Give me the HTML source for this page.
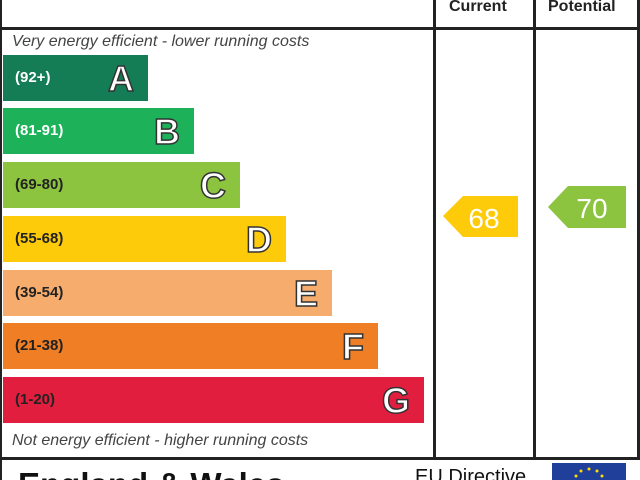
<!DOCTYPE html>
<html style="margin:0;width:640px;height:480px;overflow:hidden"><head><style>
body{margin:0;width:640px;height:480px;overflow:hidden;background:#fff;font-family:"Liberation Sans",sans-serif;position:relative}
.a{position:absolute}
.bar{position:absolute;left:3px;height:46px}
.bar .r{position:absolute;left:12px;top:14px;font-size:15px;font-weight:bold}
.bar .l{position:absolute;right:14px;top:3px;font-size:36px;font-weight:bold;color:#fff;-webkit-text-stroke:1.5px #333}
.it{position:absolute;left:12px;font-size:16px;font-style:italic;color:#444}
</style></head><body>
<div class="a" style="left:0;top:0;width:2px;height:480px;background:#222"></div>
<div class="a" style="left:637px;top:0;width:3px;height:460px;background:#222"></div>
<div class="a" style="left:0;top:27px;width:640px;height:3px;background:#222"></div>
<div class="a" style="left:0;top:457px;width:640px;height:3px;background:#222"></div>
<div class="a" style="left:433px;top:0;width:3px;height:460px;background:#222"></div>
<div class="a" style="left:533px;top:0;width:3px;height:460px;background:#222"></div>
<div class="a" style="left:449px;top:-2px;font-size:16px;font-weight:bold;color:#222">Current</div>
<div class="a" style="left:548px;top:-2px;font-size:16px;font-weight:bold;color:#222">Potential</div>
<div class="it" style="top:33px">Very energy efficient - lower running costs</div>
<div class="it" style="top:432px">Not energy efficient - higher running costs</div>
<div class="bar" style="top:55px;width:145px;background:#147d55"><span class="r" style="color:#fff">(92+)</span><span class="l">A</span></div>
<div class="bar" style="top:108px;width:191px;background:#1db15a"><span class="r" style="color:#fff">(81-91)</span><span class="l">B</span></div>
<div class="bar" style="top:162px;width:237px;background:#8cc43f"><span class="r" style="color:#222">(69-80)</span><span class="l">C</span></div>
<div class="bar" style="top:216px;width:283px;background:#fecb0a"><span class="r" style="color:#222">(55-68)</span><span class="l">D</span></div>
<div class="bar" style="top:270px;width:329px;background:#f6ac6c"><span class="r" style="color:#222">(39-54)</span><span class="l">E</span></div>
<div class="bar" style="top:323px;width:375px;background:#ef7e24"><span class="r" style="color:#222">(21-38)</span><span class="l">F</span></div>
<div class="bar" style="top:377px;width:421px;background:#e21e3e"><span class="r" style="color:#222">(1-20)</span><span class="l">G</span></div>
<svg class="a" style="left:0;top:0" width="640" height="480">
<polygon points="443,216 463,196 518,196 518,237 463,237" fill="#fecb0a"/>
<text x="484" y="228" font-size="28" fill="#fff" text-anchor="middle" font-family="Liberation Sans">68</text>
<polygon points="548,207 568,186 626,186 626,228 568,228" fill="#8cc43f"/>
<text x="592" y="218" font-size="28" fill="#fff" text-anchor="middle" font-family="Liberation Sans">70</text>
<rect x="552" y="463" width="74" height="20" fill="#1f3f9a"/>
<g fill="#ffdd00"><circle cx="589" cy="469" r="1.5"/><circle cx="581" cy="471" r="1.5"/><circle cx="597" cy="471" r="1.5"/><circle cx="576" cy="476" r="1.5"/><circle cx="602" cy="476" r="1.5"/></g>
<text x="18" y="496" font-size="33" font-weight="bold" fill="#111" font-family="Liberation Sans">England &amp; Wales</text>
<text x="415" y="483" font-size="20" fill="#111" font-family="Liberation Sans">EU Directive</text>
</svg>
</body></html>
